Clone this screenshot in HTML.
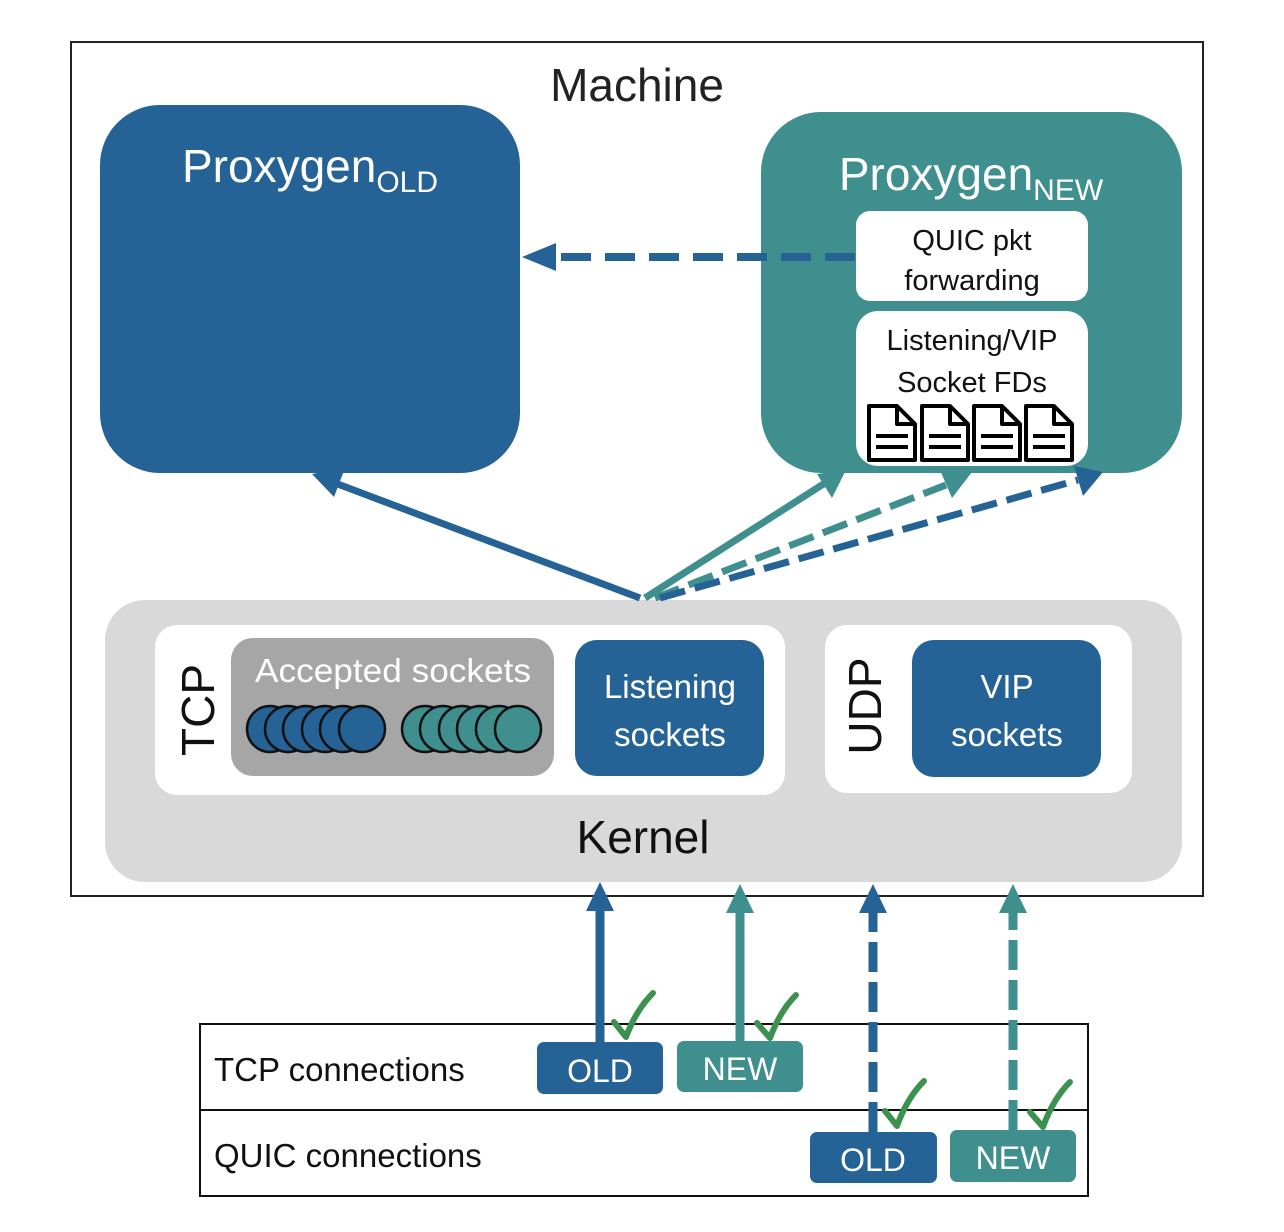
<!DOCTYPE html>
<html><head><meta charset="utf-8"><style>
html,body{margin:0;padding:0;background:#fff;}
svg{display:block;}
text{font-family:"Liberation Sans",sans-serif;}
</style></head><body>
<svg width="1284" height="1232" viewBox="0 0 1284 1232" xmlns="http://www.w3.org/2000/svg">
<defs>
<g id="doc">
<path d="M2,2 H30 L48,20 V56 H2 Z" fill="#fff" stroke="#000" stroke-width="4" stroke-linejoin="round"/>
<path d="M30,2 V20 H48" fill="none" stroke="#000" stroke-width="4" stroke-linejoin="round"/>
<line x1="9" y1="32" x2="41" y2="32" stroke="#000" stroke-width="4"/>
<line x1="9" y1="43" x2="41" y2="43" stroke="#000" stroke-width="4"/>
</g>
</defs>
<rect x="71" y="42" width="1132" height="854" fill="#fff" stroke="#222" stroke-width="2"/>
<text x="637" y="101" font-size="46" text-anchor="middle" fill="#222">Machine</text>
<rect x="100" y="105" width="420" height="368" rx="60" fill="#256296"/>
<text x="310" y="182" font-size="46" text-anchor="middle" fill="#fff">Proxygen<tspan font-size="30" dy="10">OLD</tspan></text>
<rect x="761" y="112" width="421" height="361" rx="60" fill="#3f8f8f"/>
<text x="971" y="190" font-size="46" text-anchor="middle" fill="#fff">Proxygen<tspan font-size="30" dy="10">NEW</tspan></text>
<rect x="856" y="211" width="232" height="90" rx="14" fill="#fff"/>
<text x="972" y="250" font-size="29" text-anchor="middle" fill="#111">QUIC pkt</text>
<text x="972" y="290" font-size="29" text-anchor="middle" fill="#111">forwarding</text>
<rect x="856" y="311" width="232" height="155" rx="22" fill="#fff"/>
<text x="972" y="350" font-size="29" text-anchor="middle" fill="#111">Listening/VIP</text>
<text x="972" y="392" font-size="29" text-anchor="middle" fill="#111">Socket FDs</text>
<use href="#doc" x="867" y="404"/>
<use href="#doc" x="920" y="404"/>
<use href="#doc" x="972" y="404"/>
<use href="#doc" x="1024" y="404"/>
<line x1="855" y1="257" x2="552" y2="257" stroke="#256296" stroke-width="8" stroke-dasharray="30,14"/>
<polygon points="522,257 556,243 556,271" fill="#256296"/>
<rect x="105" y="600" width="1077" height="282" rx="40" fill="#d9d9d9"/>
<rect x="155" y="625" width="630" height="170" rx="22" fill="#fff"/>
<rect x="825" y="625" width="307" height="168" rx="22" fill="#fff"/>
<rect x="231" y="638" width="323" height="138" rx="22" fill="#a6a6a6"/>
<text x="393" y="682" font-size="33" text-anchor="middle" fill="#fff" textLength="276" lengthAdjust="spacingAndGlyphs">Accepted sockets</text>
<g stroke="#111" stroke-width="2.5" fill="#256296">
<circle cx="270" cy="729" r="23"/><circle cx="288" cy="729" r="23"/><circle cx="306" cy="729" r="23"/><circle cx="325" cy="729" r="23"/><circle cx="343" cy="729" r="23"/><circle cx="362" cy="729" r="23"/>
</g>
<g stroke="#111" stroke-width="2.5" fill="#3f8f8f">
<circle cx="425" cy="729" r="23"/><circle cx="443" cy="729" r="23"/><circle cx="462" cy="729" r="23"/><circle cx="480" cy="729" r="23"/><circle cx="499" cy="729" r="23"/><circle cx="518" cy="729" r="23"/>
</g>
<rect x="575" y="640" width="189" height="136" rx="22" fill="#256296"/>
<text x="670" y="698" font-size="33" text-anchor="middle" fill="#fff">Listening</text>
<text x="670" y="746" font-size="33" text-anchor="middle" fill="#fff">sockets</text>
<rect x="912" y="640" width="189" height="137" rx="22" fill="#256296"/>
<text x="1007" y="698" font-size="33" text-anchor="middle" fill="#fff">VIP</text>
<text x="1007" y="746" font-size="33" text-anchor="middle" fill="#fff">sockets</text>
<text transform="translate(214,710) rotate(-90)" font-size="46" text-anchor="middle" fill="#111">TCP</text>
<text transform="translate(881,706) rotate(-90)" font-size="46" text-anchor="middle" fill="#111">UDP</text>
<text x="643" y="853" font-size="46" text-anchor="middle" fill="#111">Kernel</text>
<line x1="640" y1="598" x2="335" y2="483" stroke="#256296" stroke-width="7"/>
<polygon points="312,474 345,468 334,497" fill="#256296"/>
<line x1="645" y1="598" x2="825" y2="483" stroke="#3f8f8f" stroke-width="7"/>
<polygon points="846,470 832,498 817,474" fill="#3f8f8f"/>
<line x1="655" y1="598" x2="946" y2="485" stroke="#3f8f8f" stroke-width="7" stroke-dasharray="26,10"/>
<polygon points="972,472 952,498 940,470" fill="#3f8f8f"/>
<line x1="660" y1="598" x2="1078" y2="480" stroke="#256296" stroke-width="7" stroke-dasharray="26,10"/>
<polygon points="1103,472 1083,496 1074,466" fill="#256296"/>
<rect x="200" y="1024" width="888" height="172" fill="none" stroke="#111" stroke-width="2"/>
<line x1="200" y1="1110" x2="1088" y2="1110" stroke="#111" stroke-width="2"/>
<text x="214" y="1081" font-size="33" fill="#111">TCP connections</text>
<text x="214" y="1167" font-size="33" fill="#111">QUIC connections</text>
<line x1="600" y1="1042" x2="600" y2="905" stroke="#256296" stroke-width="9"/>
<polygon points="600,882 586,911 614,911" fill="#256296"/>
<line x1="740" y1="1041" x2="740" y2="905" stroke="#3f8f8f" stroke-width="9"/>
<polygon points="740,884 726,913 754,913" fill="#3f8f8f"/>
<line x1="873" y1="1132" x2="873" y2="910" stroke="#256296" stroke-width="9" stroke-dasharray="30,10"/>
<polygon points="873,884 859,913 887,913" fill="#256296"/>
<line x1="1013" y1="1130" x2="1013" y2="910" stroke="#3f8f8f" stroke-width="9" stroke-dasharray="30,10"/>
<polygon points="1013,884 999,913 1027,913" fill="#3f8f8f"/>
<rect x="537" y="1042" width="126" height="52" rx="7" fill="#256296"/>
<text x="600" y="1082" font-size="32" text-anchor="middle" fill="#fff">OLD</text>
<rect x="677" y="1041" width="126" height="51" rx="7" fill="#3f8f8f"/>
<text x="740" y="1080" font-size="32" text-anchor="middle" fill="#fff">NEW</text>
<rect x="810" y="1132" width="127" height="51" rx="7" fill="#256296"/>
<text x="873" y="1171" font-size="32" text-anchor="middle" fill="#fff">OLD</text>
<rect x="950" y="1130" width="126" height="52" rx="7" fill="#3f8f8f"/>
<text x="1013" y="1169" font-size="32" text-anchor="middle" fill="#fff">NEW</text>
<g fill="none" stroke="#3c9150" stroke-width="6" stroke-linecap="round" stroke-linejoin="round">
<path d="M614,1022 L626,1037 Q636,1010 653,993"/>
<path d="M757,1023 L770,1038 Q780,1011 796,995"/>
<path d="M885,1111 L897,1126 Q907,1098 924,1081"/>
<path d="M1030,1112 L1043,1127 Q1053,1099 1070,1082"/>
</g>
</svg>
</body></html>
